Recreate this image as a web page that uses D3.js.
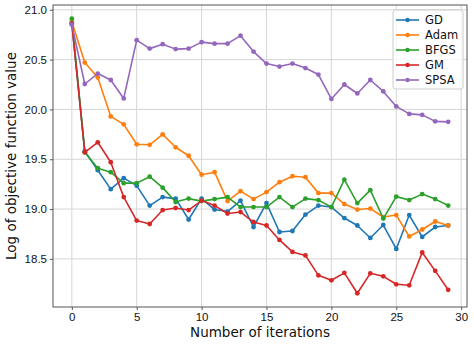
<!DOCTYPE html>
<html>
<head>
<meta charset="utf-8">
<script src="https://cdn.jsdelivr.net/npm/d3@7"></script>
<style>
  body { margin: 0; background: #fff; }
  svg { display: block; font-family: "DejaVu Sans", sans-serif; }
</style>
</head>
<body>
<div id="chart"></div>
<script>
// iteration index 0..29
var iterations = d3.range(30);

var gdValues = [20.87, 19.58, 19.39, 19.20, 19.31, 19.235, 19.035, 19.12, 19.105, 18.895,
  19.105, 18.995, 18.975, 19.085, 18.82, 19.06, 18.77, 18.78, 18.945, 19.035,
  19.02, 18.91, 18.835, 18.71, 18.84, 18.60, 18.94, 18.72, 18.82, 18.835];

var adamValues = [20.88, 20.47, 20.32, 19.93, 19.85, 19.65, 19.645, 19.75, 19.62, 19.535,
  19.345, 19.37, 19.08, 19.18, 19.10, 19.17, 19.27, 19.33, 19.32, 19.16,
  19.16, 19.05, 18.995, 19.005, 18.92, 18.94, 18.725, 18.795, 18.875, 18.835];

var bfgsValues = [20.91, 19.57, 19.41, 19.37, 19.26, 19.26, 19.325, 19.215, 19.07, 19.105,
  19.08, 19.10, 19.12, 19.02, 19.02, 19.02, 19.12, 19.02, 19.105, 19.09,
  19.02, 19.295, 19.06, 19.19, 18.905, 19.125, 19.09, 19.15, 19.10, 19.035];

var gmValues = [20.86, 19.57, 19.67, 19.47, 19.12, 18.885, 18.85, 18.99, 19.01, 18.99,
  19.085, 19.035, 18.955, 18.97, 18.87, 18.835, 18.69, 18.57, 18.535, 18.335,
  18.285, 18.36, 18.155, 18.355, 18.325, 18.245, 18.235, 18.565, 18.38, 18.19];

var spsaValues = [20.85, 20.255, 20.36, 20.295, 20.11, 20.695, 20.61, 20.655, 20.605, 20.61,
  20.675, 20.66, 20.66, 20.74, 20.58, 20.46, 20.43, 20.46, 20.415, 20.35,
  20.105, 20.25, 20.16, 20.295, 20.18, 20.03, 19.955, 19.945, 19.88, 19.875];

var seriesNames = ["GD", "Adam", "BFGS", "GM", "SPSA"];
var seriesColors = ["#1f77b4", "#ff7f0e", "#2ca02c", "#d62728", "#9467bd"];

var xTicks = [0, 5, 10, 15, 20, 25, 30];
var yTicks = [18.5, 19.0, 19.5, 20.0, 20.5, 21.0];

var series = [gdValues, adamValues, bfgsValues, gmValues, spsaValues].map(function (vals, k) {
  return {
    name: seriesNames[k],
    color: seriesColors[k],
    values: vals.map(function (v, i) { return { it: iterations[i], val: v }; })
  };
});

var W = 474, H = 345;
var margin = { left: 53, right: 7, top: 5, bottom: 38 };
var width = W - margin.left - margin.right;
var height = H - margin.top - margin.bottom;

var svg = d3.select("#chart").append("svg")
  .attr("width", W)
  .attr("height", H);

var g = svg.append("g")
  .attr("transform", "translate(" + margin.left + "," + margin.top + ")");

// padded domains, 5% either side of the data
var allVals = d3.merge(series.map(function (s) { return s.values.map(function (d) { return d.val; }); }));
var yMin = d3.min(allVals), yMax = d3.max(allVals);
var yPad = (yMax - yMin) * 0.05;

var x = d3.scaleLinear().domain([-1.45, 30.45]).range([0, width]);
var y = d3.scaleLinear().domain([yMin - yPad, yMax + yPad]).range([height, 0]);

// grid
g.append("g").selectAll("line")
  .data(xTicks).enter().append("line")
  .attr("x1", function (d) { return x(d); })
  .attr("x2", function (d) { return x(d); })
  .attr("y1", 0).attr("y2", height)
  .attr("stroke", "#d6d6d6").attr("stroke-width", 1);

g.append("g").selectAll("line")
  .data(yTicks).enter().append("line")
  .attr("y1", function (d) { return y(d); })
  .attr("y2", function (d) { return y(d); })
  .attr("x1", 0).attr("x2", width)
  .attr("stroke", "#d6d6d6").attr("stroke-width", 1);

// axes
var xAxis = d3.axisBottom(x).tickValues(xTicks).tickSize(3).tickPadding(3).tickFormat(d3.format("d"));
var yAxis = d3.axisLeft(y).tickValues(yTicks).tickSize(3).tickPadding(3).tickFormat(d3.format(".1f"));

var xg = g.append("g").attr("transform", "translate(0," + height + ")").call(xAxis);
var yg = g.append("g").call(yAxis);

[xg, yg].forEach(function (a) {
  a.select(".domain").remove();
  a.selectAll(".tick line").attr("stroke", "#555");
  a.selectAll(".tick text").attr("fill", "#111").style("font-size", "11.5px");
});

// frame
g.append("rect")
  .attr("width", width).attr("height", height)
  .attr("fill", "none")
  .attr("stroke", "#555").attr("stroke-width", 1);

// lines and markers
var line = d3.line()
  .x(function (d) { return x(d.it); })
  .y(function (d) { return y(d.val); });

var groups = g.selectAll(".series")
  .data(series).enter()
  .append("g").attr("class", "series");

groups.append("path")
  .attr("d", function (d) { return line(d.values); })
  .attr("fill", "none")
  .attr("stroke", function (d) { return d.color; })
  .attr("stroke-width", 1.6)
  .attr("stroke-linejoin", "round");

groups.each(function (s) {
  d3.select(this).selectAll("circle")
    .data(s.values).enter()
    .append("circle")
    .attr("cx", function (d) { return x(d.it); })
    .attr("cy", function (d) { return y(d.val); })
    .attr("r", 2.4)
    .attr("fill", s.color);
});

// axis titles
svg.append("text")
  .attr("x", margin.left + width / 2)
  .attr("y", 337)
  .attr("text-anchor", "middle")
  .style("font-size", "13.5px")
  .attr("fill", "#111")
  .text("Number of iterations");

svg.append("text")
  .attr("transform", "translate(16," + (margin.top + height / 2) + ") rotate(-90)")
  .attr("text-anchor", "middle")
  .style("font-size", "13.5px")
  .attr("fill", "#111")
  .text("Log of objective function value");

// legend
var legend = svg.append("g").attr("transform", "translate(393,10)");

legend.append("rect")
  .attr("width", 70).attr("height", 79)
  .attr("rx", 2.5)
  .attr("fill", "#fff").attr("fill-opacity", 0.8)
  .attr("stroke", "#ccc").attr("stroke-width", 1);

var items = legend.selectAll(".item")
  .data(series).enter()
  .append("g")
  .attr("transform", function (d, i) { return "translate(0," + (10 + i * 15) + ")"; });

items.append("line")
  .attr("x1", 3).attr("x2", 26)
  .attr("stroke", function (d) { return d.color; })
  .attr("stroke-width", 1.6);

items.append("circle")
  .attr("cx", 14.5).attr("r", 2.2)
  .attr("fill", function (d) { return d.color; });

items.append("text")
  .attr("x", 32).attr("dy", "0.35em")
  .style("font-size", "11.5px")
  .attr("fill", "#111")
  .text(function (d) { return d.name; });
</script>
</body>
</html>
